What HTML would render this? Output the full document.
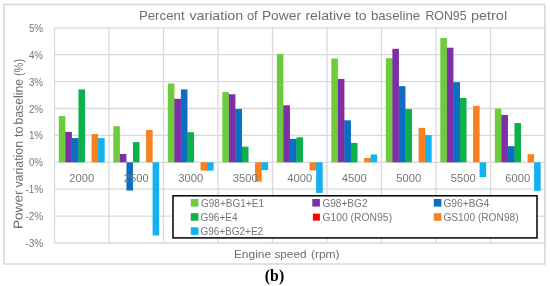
<!DOCTYPE html><html><head><meta charset="utf-8"><style>html,body{margin:0;padding:0;background:#fff;}svg{display:block;}text{font-family:"Liberation Sans",Arial,sans-serif;fill:#6e6e6e;}.lb{fill:#767676;}</style></head><body>
<svg width="550" height="286" viewBox="0 0 550 286">
<rect x="3.9" y="4.4" width="541" height="259.6" fill="#fff" stroke="#d9d9d9" stroke-width="1.6"/>
<line x1="54.5" y1="27.80" x2="545.0" y2="27.80" stroke="#d9d9d9" stroke-width="1.3"/>
<line x1="54.5" y1="54.70" x2="545.0" y2="54.70" stroke="#d9d9d9" stroke-width="1.3"/>
<line x1="54.5" y1="81.60" x2="545.0" y2="81.60" stroke="#d9d9d9" stroke-width="1.3"/>
<line x1="54.5" y1="108.50" x2="545.0" y2="108.50" stroke="#d9d9d9" stroke-width="1.3"/>
<line x1="54.5" y1="135.40" x2="545.0" y2="135.40" stroke="#d9d9d9" stroke-width="1.3"/>
<line x1="54.5" y1="162.30" x2="545.0" y2="162.30" stroke="#d9d9d9" stroke-width="1.3"/>
<line x1="54.5" y1="189.20" x2="545.0" y2="189.20" stroke="#d9d9d9" stroke-width="1.3"/>
<line x1="54.5" y1="216.10" x2="545.0" y2="216.10" stroke="#d9d9d9" stroke-width="1.3"/>
<line x1="54.5" y1="243.00" x2="545.0" y2="243.00" stroke="#d9d9d9" stroke-width="1.3"/>
<line x1="54.50" y1="27.8" x2="54.50" y2="243.00" stroke="#d9d9d9" stroke-width="1.3"/>
<line x1="109.00" y1="27.8" x2="109.00" y2="243.00" stroke="#d9d9d9" stroke-width="1.3"/>
<line x1="163.50" y1="27.8" x2="163.50" y2="243.00" stroke="#d9d9d9" stroke-width="1.3"/>
<line x1="218.00" y1="27.8" x2="218.00" y2="243.00" stroke="#d9d9d9" stroke-width="1.3"/>
<line x1="272.50" y1="27.8" x2="272.50" y2="243.00" stroke="#d9d9d9" stroke-width="1.3"/>
<line x1="327.00" y1="27.8" x2="327.00" y2="243.00" stroke="#d9d9d9" stroke-width="1.3"/>
<line x1="381.50" y1="27.8" x2="381.50" y2="243.00" stroke="#d9d9d9" stroke-width="1.3"/>
<line x1="436.00" y1="27.8" x2="436.00" y2="243.00" stroke="#d9d9d9" stroke-width="1.3"/>
<line x1="490.50" y1="27.8" x2="490.50" y2="243.00" stroke="#d9d9d9" stroke-width="1.3"/>
<line x1="545.00" y1="27.8" x2="545.00" y2="243.00" stroke="#d9d9d9" stroke-width="1.3"/>
<rect x="58.82" y="116.03" width="6.55" height="46.27" fill="#6DCC3C"/>
<rect x="65.27" y="131.90" width="0.7" height="30.40" fill="#6DCC3C"/>
<rect x="65.37" y="131.90" width="6.55" height="30.40" fill="#7F2FA6"/>
<rect x="71.82" y="138.09" width="0.7" height="24.21" fill="#7F2FA6"/>
<rect x="71.92" y="138.09" width="6.55" height="24.21" fill="#0A6FC2"/>
<rect x="78.37" y="138.09" width="0.7" height="24.21" fill="#0A6FC2"/>
<rect x="78.47" y="89.40" width="6.55" height="72.90" fill="#0DB14B"/>
<rect x="91.57" y="134.06" width="6.55" height="28.25" fill="#F7801F"/>
<rect x="98.02" y="138.09" width="0.7" height="24.21" fill="#F7801F"/>
<rect x="98.12" y="138.09" width="6.55" height="24.21" fill="#12B1F0"/>
<rect x="113.32" y="126.25" width="6.55" height="36.05" fill="#6DCC3C"/>
<rect x="119.77" y="153.96" width="0.7" height="8.34" fill="#6DCC3C"/>
<rect x="119.87" y="153.96" width="6.55" height="8.34" fill="#7F2FA6"/>
<rect x="126.42" y="162.30" width="6.55" height="28.25" fill="#0A6FC2"/>
<rect x="132.97" y="142.12" width="6.55" height="20.17" fill="#0DB14B"/>
<rect x="146.07" y="130.02" width="6.55" height="32.28" fill="#F7801F"/>
<rect x="152.62" y="162.30" width="6.55" height="73.17" fill="#12B1F0"/>
<rect x="167.82" y="83.48" width="6.55" height="78.82" fill="#6DCC3C"/>
<rect x="174.27" y="98.82" width="0.7" height="63.48" fill="#6DCC3C"/>
<rect x="174.37" y="98.82" width="6.55" height="63.48" fill="#7F2FA6"/>
<rect x="180.82" y="98.82" width="0.7" height="63.48" fill="#7F2FA6"/>
<rect x="180.92" y="89.40" width="6.55" height="72.90" fill="#0A6FC2"/>
<rect x="187.37" y="132.17" width="0.7" height="30.13" fill="#0A6FC2"/>
<rect x="187.47" y="132.17" width="6.55" height="30.13" fill="#0DB14B"/>
<rect x="200.57" y="162.30" width="6.55" height="8.34" fill="#F7801F"/>
<rect x="207.02" y="162.30" width="0.7" height="8.34" fill="#F7801F"/>
<rect x="207.12" y="162.30" width="6.55" height="8.34" fill="#12B1F0"/>
<rect x="222.32" y="92.09" width="6.55" height="70.21" fill="#6DCC3C"/>
<rect x="228.77" y="94.24" width="0.7" height="68.06" fill="#6DCC3C"/>
<rect x="228.87" y="94.24" width="6.55" height="68.06" fill="#7F2FA6"/>
<rect x="235.32" y="109.04" width="0.7" height="53.26" fill="#7F2FA6"/>
<rect x="235.42" y="109.04" width="6.55" height="53.26" fill="#0A6FC2"/>
<rect x="241.87" y="146.70" width="0.7" height="15.60" fill="#0A6FC2"/>
<rect x="241.97" y="146.70" width="6.55" height="15.60" fill="#0DB14B"/>
<rect x="255.07" y="162.30" width="6.55" height="19.37" fill="#F7801F"/>
<rect x="261.52" y="162.30" width="0.7" height="7.80" fill="#F7801F"/>
<rect x="261.62" y="162.30" width="6.55" height="7.80" fill="#12B1F0"/>
<rect x="276.82" y="53.89" width="6.55" height="108.41" fill="#6DCC3C"/>
<rect x="283.27" y="105.27" width="0.7" height="57.03" fill="#6DCC3C"/>
<rect x="283.37" y="105.27" width="6.55" height="57.03" fill="#7F2FA6"/>
<rect x="289.82" y="138.90" width="0.7" height="23.40" fill="#7F2FA6"/>
<rect x="289.92" y="138.90" width="6.55" height="23.40" fill="#0A6FC2"/>
<rect x="296.37" y="138.90" width="0.7" height="23.40" fill="#0A6FC2"/>
<rect x="296.47" y="137.28" width="6.55" height="25.02" fill="#0DB14B"/>
<rect x="309.57" y="162.30" width="6.55" height="8.07" fill="#F7801F"/>
<rect x="316.02" y="162.30" width="0.7" height="8.07" fill="#F7801F"/>
<rect x="316.12" y="162.30" width="6.55" height="30.67" fill="#12B1F0"/>
<rect x="331.32" y="58.47" width="6.55" height="103.83" fill="#6DCC3C"/>
<rect x="337.77" y="78.91" width="0.7" height="83.39" fill="#6DCC3C"/>
<rect x="337.87" y="78.91" width="6.55" height="83.39" fill="#7F2FA6"/>
<rect x="344.32" y="120.34" width="0.7" height="41.96" fill="#7F2FA6"/>
<rect x="344.42" y="120.34" width="6.55" height="41.96" fill="#0A6FC2"/>
<rect x="350.87" y="142.93" width="0.7" height="19.37" fill="#0A6FC2"/>
<rect x="350.97" y="142.93" width="6.55" height="19.37" fill="#0DB14B"/>
<rect x="364.07" y="158.00" width="6.55" height="4.30" fill="#F7801F"/>
<rect x="370.52" y="158.00" width="0.7" height="4.30" fill="#F7801F"/>
<rect x="370.62" y="154.50" width="6.55" height="7.80" fill="#12B1F0"/>
<rect x="385.82" y="58.20" width="6.55" height="104.10" fill="#6DCC3C"/>
<rect x="392.27" y="58.20" width="0.7" height="104.10" fill="#6DCC3C"/>
<rect x="392.37" y="48.78" width="6.55" height="113.52" fill="#7F2FA6"/>
<rect x="398.82" y="86.17" width="0.7" height="76.13" fill="#7F2FA6"/>
<rect x="398.92" y="86.17" width="6.55" height="76.13" fill="#0A6FC2"/>
<rect x="405.37" y="109.04" width="0.7" height="53.26" fill="#0A6FC2"/>
<rect x="405.47" y="109.04" width="6.55" height="53.26" fill="#0DB14B"/>
<rect x="418.57" y="127.87" width="6.55" height="34.43" fill="#F7801F"/>
<rect x="425.02" y="135.13" width="0.7" height="27.17" fill="#F7801F"/>
<rect x="425.12" y="135.13" width="6.55" height="27.17" fill="#12B1F0"/>
<rect x="440.32" y="38.02" width="6.55" height="124.28" fill="#6DCC3C"/>
<rect x="446.77" y="47.71" width="0.7" height="114.59" fill="#6DCC3C"/>
<rect x="446.87" y="47.71" width="6.55" height="114.59" fill="#7F2FA6"/>
<rect x="453.32" y="82.14" width="0.7" height="80.16" fill="#7F2FA6"/>
<rect x="453.42" y="82.14" width="6.55" height="80.16" fill="#0A6FC2"/>
<rect x="459.87" y="98.01" width="0.7" height="64.29" fill="#0A6FC2"/>
<rect x="459.97" y="98.01" width="6.55" height="64.29" fill="#0DB14B"/>
<rect x="473.07" y="105.81" width="6.55" height="56.49" fill="#F7801F"/>
<rect x="479.62" y="162.30" width="6.55" height="14.79" fill="#12B1F0"/>
<rect x="494.82" y="108.50" width="6.55" height="53.80" fill="#6DCC3C"/>
<rect x="501.27" y="114.96" width="0.7" height="47.34" fill="#6DCC3C"/>
<rect x="501.37" y="114.96" width="6.55" height="47.34" fill="#7F2FA6"/>
<rect x="507.82" y="146.16" width="0.7" height="16.14" fill="#7F2FA6"/>
<rect x="507.92" y="146.16" width="6.55" height="16.14" fill="#0A6FC2"/>
<rect x="514.37" y="146.16" width="0.7" height="16.14" fill="#0A6FC2"/>
<rect x="514.47" y="123.03" width="6.55" height="39.27" fill="#0DB14B"/>
<rect x="527.57" y="154.23" width="6.55" height="8.07" fill="#F7801F"/>
<rect x="534.12" y="162.30" width="6.55" height="28.51" fill="#12B1F0"/>
<text x="28.90" y="31.80" font-size="11.2" textLength="14.19" lengthAdjust="spacingAndGlyphs" class="lb">5%</text>
<text x="28.90" y="58.70" font-size="11.2" textLength="14.19" lengthAdjust="spacingAndGlyphs" class="lb">4%</text>
<text x="28.90" y="85.60" font-size="11.2" textLength="14.19" lengthAdjust="spacingAndGlyphs" class="lb">3%</text>
<text x="28.90" y="112.50" font-size="11.2" textLength="14.19" lengthAdjust="spacingAndGlyphs" class="lb">2%</text>
<text x="28.90" y="139.40" font-size="11.2" textLength="14.19" lengthAdjust="spacingAndGlyphs" class="lb">1%</text>
<text x="28.90" y="166.30" font-size="11.2" textLength="14.19" lengthAdjust="spacingAndGlyphs" class="lb">0%</text>
<text x="25.40" y="193.20" font-size="11.2" textLength="17.69" lengthAdjust="spacingAndGlyphs" class="lb">-1%</text>
<text x="25.40" y="220.10" font-size="11.2" textLength="17.69" lengthAdjust="spacingAndGlyphs" class="lb">-2%</text>
<text x="25.40" y="247.00" font-size="11.2" textLength="17.69" lengthAdjust="spacingAndGlyphs" class="lb">-3%</text>
<text class="lb" x="81.75" y="181.8" font-size="11.2" text-anchor="middle">2000</text>
<text class="lb" x="136.25" y="181.8" font-size="11.2" text-anchor="middle">2500</text>
<text class="lb" x="190.75" y="181.8" font-size="11.2" text-anchor="middle">3000</text>
<text class="lb" x="245.25" y="181.8" font-size="11.2" text-anchor="middle">3500</text>
<text class="lb" x="299.75" y="181.8" font-size="11.2" text-anchor="middle">4000</text>
<text class="lb" x="354.25" y="181.8" font-size="11.2" text-anchor="middle">4500</text>
<text class="lb" x="408.75" y="181.8" font-size="11.2" text-anchor="middle">5000</text>
<text class="lb" x="463.25" y="181.8" font-size="11.2" text-anchor="middle">5500</text>
<text class="lb" x="517.75" y="181.8" font-size="11.2" text-anchor="middle">6000</text>
<text x="138.90" y="20.2" font-size="13.0" textLength="45.70" lengthAdjust="spacingAndGlyphs">Percent</text>
<text x="189.40" y="20.2" font-size="13.0" textLength="53.71" lengthAdjust="spacingAndGlyphs">variation</text>
<text x="246.90" y="20.2" font-size="13.0" textLength="10.69" lengthAdjust="spacingAndGlyphs">of</text>
<text x="261.90" y="20.2" font-size="13.0" textLength="39.23" lengthAdjust="spacingAndGlyphs">Power</text>
<text x="305.40" y="20.2" font-size="13.0" textLength="45.70" lengthAdjust="spacingAndGlyphs">relative</text>
<text x="354.90" y="20.2" font-size="13.0" textLength="11.76" lengthAdjust="spacingAndGlyphs">to</text>
<text x="370.90" y="20.2" font-size="13.0" textLength="49.20" lengthAdjust="spacingAndGlyphs">baseline</text>
<text x="425.40" y="20.2" font-size="13.0" textLength="41.20" lengthAdjust="spacingAndGlyphs">RON95</text>
<text x="470.90" y="20.2" font-size="13.0" textLength="36.22" lengthAdjust="spacingAndGlyphs">petrol</text>
<g transform="translate(22.6,240) rotate(-89.97)">
<text x="10.90" y="0" font-size="12.8" textLength="38.71" lengthAdjust="spacingAndGlyphs">Power</text>
<text x="52.40" y="0" font-size="12.8" textLength="46.71" lengthAdjust="spacingAndGlyphs">variation</text>
<text x="102.90" y="0" font-size="12.8" textLength="10.68" lengthAdjust="spacingAndGlyphs">to</text>
<text x="115.40" y="0" font-size="12.8" textLength="45.74" lengthAdjust="spacingAndGlyphs">baseline</text>
<text x="163.90" y="0" font-size="12.8" textLength="17.17" lengthAdjust="spacingAndGlyphs">(%)</text>
</g>
<text x="233.90" y="258.0" font-size="11.6" textLength="37.24" lengthAdjust="spacingAndGlyphs">Engine</text>
<text x="274.40" y="258.0" font-size="11.6" textLength="32.19" lengthAdjust="spacingAndGlyphs">speed</text>
<text x="310.90" y="258.0" font-size="11.6" textLength="28.70" lengthAdjust="spacingAndGlyphs">(rpm)</text>
<rect x="173" y="195.8" width="364" height="42.1" fill="#fff" stroke="#000" stroke-width="1.5"/>
<rect x="190.80" y="199.00" width="7.6" height="7.6" fill="#6DCC3C"/>
<text x="200.90" y="206.50" font-size="11.2" textLength="63.20" lengthAdjust="spacingAndGlyphs" class="lb">G98+BG1+E1</text>
<rect x="312.30" y="199.00" width="7.6" height="7.6" fill="#7F2FA6"/>
<text x="322.40" y="206.50" font-size="11.2" textLength="45.20" lengthAdjust="spacingAndGlyphs" class="lb">G98+BG2</text>
<rect x="433.80" y="199.00" width="7.6" height="7.6" fill="#0A6FC2"/>
<text x="443.40" y="206.50" font-size="11.2" textLength="45.72" lengthAdjust="spacingAndGlyphs" class="lb">G96+BG4</text>
<rect x="190.80" y="213.15" width="7.6" height="7.6" fill="#0DB14B"/>
<text x="200.40" y="220.65" font-size="11.2" textLength="37.21" lengthAdjust="spacingAndGlyphs" class="lb">G96+E4</text>
<rect x="312.90" y="213.65" width="7.0" height="7.0" fill="#FF0000"/>
<text x="322.40" y="220.65" font-size="11.2" textLength="69.69" lengthAdjust="spacingAndGlyphs" class="lb">G100 (RON95)</text>
<rect x="433.80" y="213.15" width="7.6" height="7.6" fill="#F7801F"/>
<text x="443.40" y="220.65" font-size="11.2" textLength="75.20" lengthAdjust="spacingAndGlyphs" class="lb">GS100 (RON98)</text>
<rect x="190.80" y="227.30" width="7.6" height="7.6" fill="#12B1F0"/>
<text x="200.40" y="234.80" font-size="11.2" textLength="62.71" lengthAdjust="spacingAndGlyphs" class="lb">G96+BG2+E2</text>
<text x="274.5" y="281" font-size="15.8" text-anchor="middle" style="font-family:'Liberation Serif',serif;font-weight:bold;fill:#000">(b)</text>
</svg></body></html>
